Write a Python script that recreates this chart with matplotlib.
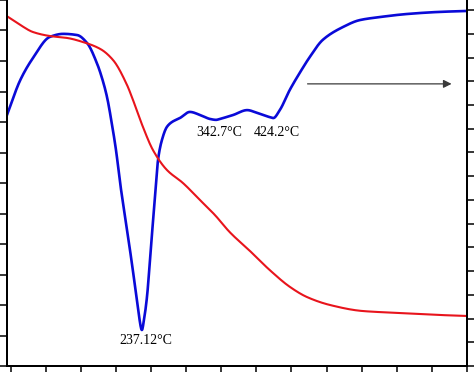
import numpy as np
import matplotlib.pyplot as plt

# temperature (°C) and DTA signal (left axis)
t_dta = [45, 64, 82, 106, 125, 145, 159, 173, 180.3, 187.4, 194.6, 200.2, 205.9, 215.9,
         223, 228.7, 232.9, 237.1, 240, 244.3, 248.6, 252.8, 257.1, 260, 265.6, 272.7,
         279.9, 291.2, 305.4, 320, 334, 342.7, 348, 367, 387, 401, 419, 424.2, 433.4,
         447.6, 461.8, 476.1, 494.5, 523, 547.1, 575.6, 614, 661, 699]
dta = [-1.77, -0.62, 0.10, 0.79, 0.89, 0.85, 0.59, -0.07, -0.56, -1.18, -2.10, -2.92,
       -3.97, -5.54, -6.66, -7.64, -8.36, -8.82, -8.49, -7.74, -6.52, -5.28, -4.07,
       -3.25, -2.59, -2.16, -2.00, -1.87, -1.67, -1.77, -1.90, -1.93, -1.90, -1.77,
       -1.61, -1.70, -1.84, -1.87, -1.61, -0.95, -0.39, 0.13, 0.69, 1.11, 1.34, 1.44,
       1.54, 1.61, 1.64]

# temperature (°C) and TG mass (%) (right axis)
t_tg = [45, 64, 82, 106, 131, 153, 178, 196, 215.9, 224.4, 238.6, 252.8, 272.7, 295.5,
        319.7, 341, 362, 391, 419, 448, 472, 505, 551, 604, 661, 700]
tg = [98.7, 96.85, 95.37, 94.53, 94.11, 93.27, 91.79, 89.47, 84.21, 81.05, 75.36,
      70.51, 66.30, 63.56, 59.98, 56.82, 53.23, 49.23, 45.23, 41.65, 39.54, 37.85,
      36.59, 36.17, 35.75, 35.54]

peaks = [(237.12, "237.12°C"), (342.7, "342.7°C"), (424.2, "424.2°C")]
peak_y = [-9.18, -2.36, -2.33]


def pchip(x, y, xn):
    # monotone cubic through the read points, only to draw a smooth line
    x = np.asarray(x, float)
    y = np.asarray(y, float)
    h = np.diff(x)
    d = np.diff(y) / h
    m = np.zeros_like(y)
    for k in range(1, len(x) - 1):
        if d[k - 1] * d[k] > 0:
            w1 = 2 * h[k] + h[k - 1]
            w2 = h[k] + 2 * h[k - 1]
            m[k] = (w1 + w2) / (w1 / d[k - 1] + w2 / d[k])
    m[0], m[-1] = d[0], d[-1]
    i = np.clip(np.searchsorted(x, xn) - 1, 0, len(h) - 1)
    s = (xn - x[i]) / h[i]
    h00 = 2 * s**3 - 3 * s**2 + 1
    h10 = s**3 - 2 * s**2 + s
    h01 = -2 * s**3 + 3 * s**2
    h11 = s**3 - s**2
    return h00 * y[i] + h10 * h[i] * m[i] + h01 * y[i + 1] + h11 * h[i] * m[i + 1]


fig = plt.figure(figsize=(4.74, 3.74), dpi=100)
ax = fig.add_axes([7 / 474, 8 / 374, 460 / 474, 378.2 / 374])
ax2 = ax.twinx()

xb = np.linspace(t_dta[0], t_dta[-1], 1500)
xr = np.linspace(t_tg[0], t_tg[-1], 1500)
ax.plot(xb, pchip(t_dta, dta, xb), color='#0a0ad8', lw=1.9)
ax2.plot(xr, pchip(t_tg, tg, xr), color='#e8141c', lw=1.5)

ax.set_xlim(45, 700)
ax.set_ylim(-10, 2.4)
ax2.set_ylim(25, 104.69)
ax.set_xticks(np.arange(50, 701, 50))
ax.set_yticks(np.arange(-10, 3, 1))
ax2.set_yticks(np.arange(25, 101, 5))

for a in (ax, ax2):
    a.spines['top'].set_visible(False)
    for s in a.spines.values():
        s.set_linewidth(1.4)
    a.tick_params(direction='out', length=5, width=1.1,
                  labelleft=False, labelright=False, labelbottom=False)
ax.tick_params(axis='x', length=4.5)

for (tx, lab), ty in zip(peaks, peak_y):
    ax.text(tx + (5.8 if tx < 300 else 5), ty, lab, ha='center', va='center',
            fontsize=10, family='Liberation Serif')

ax.annotate('', xy=(682, -0.75), xytext=(469, -0.75),
            arrowprops=dict(arrowstyle='-|>', color='#3a3a3a', lw=0.9,
                            mutation_scale=12))

fig.savefig('out.png', dpi=100)
